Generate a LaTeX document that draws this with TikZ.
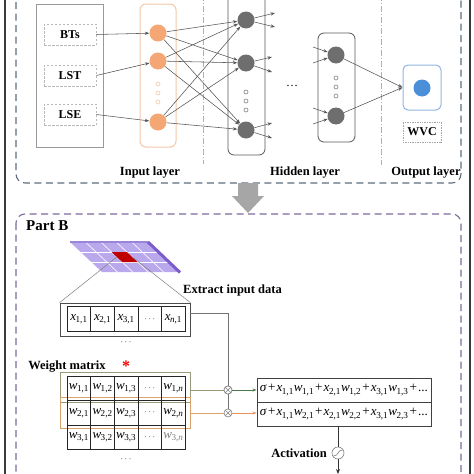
\documentclass[tikz,border=0pt]{standalone}
\usepackage{fontspec}
\usepackage{graphicx}
\setmainfont{Liberation Serif}
\usetikzlibrary{arrows.meta,calc}
\definecolor{frameC}{HTML}{3A3A3A}
\definecolor{partAC}{HTML}{5E6E7E}
\definecolor{partBC}{HTML}{7D6B9E}
\definecolor{sepC}{HTML}{B0B0B0}
\definecolor{orangeN}{HTML}{F4A774}
\definecolor{orangeB}{HTML}{F3C9A8}
\definecolor{grayN}{HTML}{6E6E6E}
\definecolor{blueN}{HTML}{4A8FD8}
\definecolor{blueB}{HTML}{8EB6E3}
\definecolor{arrC}{HTML}{555555}
\definecolor{bigArr}{HTML}{A6A6A6}
\definecolor{slabTop}{HTML}{B9A8EC}
\definecolor{slabSide}{HTML}{7B5CCB}
\definecolor{cellRed}{HTML}{C00000}
\definecolor{olv}{HTML}{9A9A78}
\definecolor{olvArr}{HTML}{4C7A4C}
\definecolor{orgL}{HTML}{D9A26A}
\definecolor{orgArr}{HTML}{E8955A}
\newcommand\ivar[2]{\textit{#1}\kern-0.5pt\textsubscript{#2}}
\newcommand\pl{\kern1.2pt+\kern1.2pt}
\begin{document}
\begin{tikzpicture}[x=1pt,y=-1pt,
  lbl/.style={font=\bfseries\fontsize{12.5}{14}\selectfont, inner sep=0pt},
  conn/.style={draw=arrC, line width=0.55pt, -{Stealth[length=4.5pt,width=3.2pt]}},
  inbox/.style={draw=gray!55, dash pattern=on 2.5pt off 1.5pt, line width=0.7pt, minimum width=52pt, minimum height=21pt, inner sep=0pt, font=\bfseries\fontsize{12}{14}\selectfont},
  onode/.style={circle, fill=orangeN, minimum size=17pt, inner sep=0pt},
  gnode/.style={circle, fill=grayN, minimum size=17pt, inner sep=0pt},
  odot/.style={circle, draw=orangeB, line width=0.6pt, minimum size=4pt, inner sep=0pt},
  gdot/.style={circle, draw=gray, line width=0.6pt, minimum size=4pt, inner sep=0pt},
  cell/.style={draw=black!85, line width=0.8pt, minimum width=23.6pt, minimum height=24.5pt, inner sep=0pt, font=\fontsize{13}{15}\selectfont},
  mult/.style={circle, draw=gray, fill=white, line width=0.6pt, minimum size=8pt, inner sep=0pt,
    path picture={\draw[gray, line width=0.5pt] (path picture bounding box.north west) -- (path picture bounding box.south east) (path picture bounding box.north east) -- (path picture bounding box.south west);}},
  layerbox/.style={draw=black!65, line width=0.8pt, rounded corners=6pt},
  sepline/.style={draw=sepC, line width=0.7pt, dash pattern=on 6pt off 2pt on 1pt off 2pt},
  formbox/.style={draw=black!75, line width=0.9pt, minimum width=174pt, minimum height=24pt, inner sep=0pt, font=\fontsize{14}{16}\selectfont},
]
\useasboundingbox (0,0) rectangle (474,474);
\clip (0,0) rectangle (474,474);
\fill[white] (0,0) rectangle (474,474);

% outer frame and part frames
\draw[frameC, line width=1.4pt] (5,-30) rectangle (470,510);
\draw[partAC, line width=1.1pt, dash pattern=on 7pt off 4.5pt, rounded corners=9pt] (16,-30) rectangle (461,183);
\draw[partBC, line width=1.1pt, dash pattern=on 7pt off 4.5pt, rounded corners=9pt] (16,214) rectangle (461,520);

% separators
\draw[sepline] (203,-5) -- (203,164);
\draw[sepline] (381,-5) -- (381,165);

% ===== Part A =====
\node[draw=gray!80, line width=0.8pt, minimum width=67pt, minimum height=143pt, inner sep=0pt] (inrect) at (69.5,75.5) {};
\node[inbox] (bts) at (70,34.5) {BTs};
\node[inbox] (lst) at (70,75.5) {LST};
\node[inbox] (lse) at (70,114.5) {LSE};

\node[draw=orangeB, line width=1pt, rounded corners=6pt, minimum width=36pt, minimum height=143pt, inner sep=0pt] (obox) at (158,75.5) {};
\node[onode] (i1) at (158,33) {};
\node[onode] (i2) at (158,61) {};
\node[onode] (i3) at (158,122) {};
\node[odot] (od1) at (158,84) {};
\node[odot] (od2) at (158,93) {};
\node[odot] (od3) at (158,102) {};

\draw[conn] (bts.east) -- (i1);
\draw[conn] (lst.east) -- (i2);
\draw[conn] (lse.east) -- (i3);

\node[layerbox, minimum width=37pt, minimum height=175pt, inner sep=0pt] (hbox1) at (246.5,67.5) {};
\node[gnode] (h1) at (246,20) {};
\node[gnode] (h2) at (246,63) {};
\node[gnode] (h3) at (246,130) {};
\node[gdot] (hd1) at (246,92) {};
\node[gdot] (hd2) at (246,101) {};
\node[gdot] (hd3) at (246,110) {};

\foreach \i in {i1,i2,i3}{
  \foreach \h in {h1,h2,h3}{
    \draw[conn] (\i) -- (\h);
  }
}

\coordinate (h1a) at (275,13);
\coordinate (h1b) at (275,27);
\coordinate (h2a) at (272,57);
\coordinate (h2b) at (272,72);
\coordinate (h3a) at (272,123);
\coordinate (h3b) at (272,138);
\foreach \h in {h1,h2,h3}{
  \draw[conn] (\h) -- (\h a);
  \draw[conn] (\h) -- (\h b);
}

\node[font=\fontsize{12}{14}\selectfont, inner sep=0pt] (hdots) at (292,86) {\dots};

\node[layerbox, minimum width=37pt, minimum height=109pt, inner sep=0pt] (hbox2) at (336.5,87.5) {};
\node[gnode] (k1) at (336,55) {};
\node[gnode] (k2) at (336,116) {};
\node[gdot] (kd1) at (336,78) {};
\node[gdot] (kd2) at (336,87) {};
\node[gdot] (kd3) at (336,96) {};
\coordinate (k1a) at (313,47);
\coordinate (k1b) at (313,63);
\coordinate (k2a) at (313,108);
\coordinate (k2b) at (313,124);
\foreach \k in {k1,k2}{
  \draw[conn] (\k a) -- (\k);
  \draw[conn] (\k b) -- (\k);
}

\node[draw=blueB, line width=1pt, rounded corners=5pt, minimum width=38pt, minimum height=45pt, inner sep=0pt] (outbox) at (422,87.5) {};
\node[circle, fill=blueN, minimum size=17pt, inner sep=0pt] (o) at (422,88) {};
\draw[conn] (k1) -- (outbox.west);
\draw[conn] (k2) -- (outbox.west);

\node[draw=gray!70, densely dotted, line width=0.7pt, minimum width=38pt, minimum height=20pt, inner sep=0pt, font=\bfseries\fontsize{12}{14}\selectfont] (wvc) at (422,132) {WVC};

\node[lbl] (linput) at (150,173) {Input layer};
\node[lbl] (lhidden) at (305,173) {Hidden layer};
\node[lbl] (loutput) at (426,173) {Output layer};

% big arrow
\fill[bigArr] (238,183) -- (258,183) -- (258,196) -- (264,196) -- (248,213) -- (232,196) -- (238,196) -- cycle;

% ===== Part B =====
\node[font=\bfseries\fontsize{15}{17}\selectfont, inner sep=0pt, anchor=west] (partb) at (26,226) {Part B};

% slab
\fill[slabTop] (70,242) -- (147,242) -- (179,272) -- (102,272) -- cycle;
\foreach \u in {0.2,0.4,0.6,0.8}{
  \draw[white, line width=0.6pt] ({70+77*\u},242) -- ({102+77*\u},272);
}
\foreach \v in {0.3333,0.6667}{
  \draw[white, line width=0.6pt] ({70+32*\v},{242+30*\v}) -- ({147+32*\v},{242+30*\v});
}
\fill[cellRed] (111.5,252) -- (126.9,252) -- (137.5,262) -- (122.1,262) -- cycle;
\draw[slabSide!75, line width=2pt] (70,241.5) -- (147.5,241.5);
\draw[slabSide, line width=3pt] (148,242) -- (180,272.5);
\coordinate (redL) at (116.8,257);
\coordinate (redR) at (132.2,257);

% x data box
\node[draw=black!70, line width=0.8pt, minimum width=130pt, minimum height=33pt, inner sep=0pt] (xbox) at (125,319.5) {};
\node[cell] (x1) at (79,319) {\ivar{x}{1,1}};
\node[cell] (x2) at (102.6,319) {\ivar{x}{2,1}};
\node[cell] (x3) at (126.2,319) {\ivar{x}{3,1}};
\node[cell, font=\fontsize{9}{10}\selectfont] (x4) at (149.8,319) {$\cdots$};
\node[cell] (x5) at (173.4,319) {\ivar{x}{\textit{n},1}};
\draw[gray, line width=0.5pt] (redL) -- (xbox.north west);
\draw[gray, line width=0.5pt] (redR) -- (xbox.north east);
\node[lbl, anchor=west] (extract) at (183,290) {Extract input data};
\node[inner sep=0pt, font=\fontsize{9}{10}\selectfont] (xdots) at (126,342) {$\cdots$};

% weight matrix
\node[lbl] (wmlabel) at (67,367) {Weight matrix};
\node[text=red, font=\bfseries\fontsize{16}{16}\selectfont, inner sep=0pt] (ast) at (126,366) {*};
\node[draw=olv, line width=1pt, minimum width=130pt, minimum height=30pt, inner sep=0pt] (wr1) at (125,387) {};
\node[draw=orgL, line width=1pt, minimum width=130pt, minimum height=31pt, inner sep=0pt] (wr2) at (125,412.5) {};
\foreach \r/\y in {1/388.3,2/412.8,3/437.3}{
  \node[cell] (w\r1) at (79,\y) {\ivar{w}{\r,1}};
  \node[cell] (w\r2) at (102.6,\y) {\ivar{w}{\r,2}};
  \node[cell] (w\r3) at (126.2,\y) {\ivar{w}{\r,3}};
  \node[cell, font=\fontsize{9}{10}\selectfont] (w\r4) at (149.8,\y) {$\cdots$};
}
\node[cell] (w15) at (173.4,388.3) {\ivar{w}{1,\textit{n}}};
\node[cell] (w25) at (173.4,412.8) {\ivar{w}{2,\textit{n}}};
\node[cell, text=gray] (w35) at (173.4,437.3) {\ivar{w}{3,\textit{n}}};
\node[inner sep=0pt, font=\fontsize{9}{10}\selectfont] (wdots) at (126,459) {$\cdots$};

% multiplications
\coordinate (xturn) at (228,313);
\node[mult] (m1) at (228,390) {};
\node[mult] (m2) at (228,413) {};
\draw[gray!90!black, line width=0.7pt] (xbox.east |- xturn) -- (xturn) -- (m2.north);
\node[mult] at (228,390) {};

% formula boxes
\node[formbox] (f1) at (344,390) {\resizebox{168pt}{!}{\textit{σ}\pl\ivar{x}{1,1}\ivar{w}{1,1}\pl\ivar{x}{2,1}\ivar{w}{1,2}\pl\ivar{x}{3,1}\ivar{w}{1,3}\pl...}};
\node[formbox] (f2) at (344,414) {\resizebox{168pt}{!}{\textit{σ}\pl\ivar{x}{1,1}\ivar{w}{2,1}\pl\ivar{x}{2,1}\ivar{w}{2,2}\pl\ivar{x}{3,1}\ivar{w}{2,3}\pl...}};

\draw[olv, line width=0.8pt] (wr1.east |- m1) -- (m1);
\draw[olvArr, line width=0.8pt, -{Stealth[length=4pt,width=3pt]}] (m1) -- (f1.west |- m1);
\draw[orgL, line width=0.8pt] (wr2.east |- m2) -- (m2);
\draw[orgArr, line width=0.8pt, -{Stealth[length=4pt,width=3pt]}] (m2) -- (f2.west |- m2);

% activation
\node[circle, draw=gray, fill=white, line width=0.6pt, minimum size=12pt, inner sep=0pt,
  path picture={\draw[gray, line width=0.6pt] ([shift={(-4.5pt,-3pt)}]path picture bounding box.center) .. controls ([shift={(1pt,-3pt)}]path picture bounding box.center) and ([shift={(-1pt,3pt)}]path picture bounding box.center) .. ([shift={(4.5pt,3pt)}]path picture bounding box.center);}] (act) at (338,453) {};
\draw[black!80, line width=0.8pt] (f2.south -| act) -- (act);
\coordinate (actend) at (338,474);
\draw[black!80, line width=0.8pt, -{Stealth[length=5pt,width=4pt]}] (act) -- (actend);
\node[lbl, anchor=east] (actlabel) at (327,453) {Activation};

\end{tikzpicture}
\end{document}
